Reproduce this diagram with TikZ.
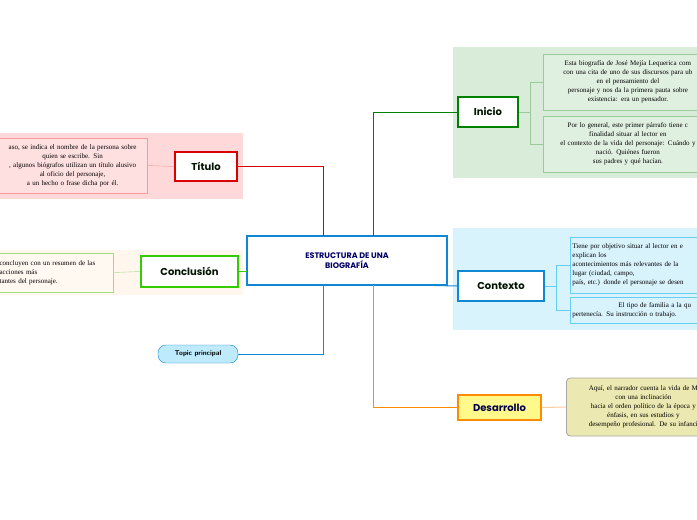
\documentclass[tikz,border=0pt]{standalone}
\usepackage{fontspec}
\setmainfont{Liberation Serif}
\newfontfamily\hd{Poppins}
\begin{document}
\begin{tikzpicture}[x=1pt,y=-1pt,
 main/.style={draw,line width=1.6pt,fill=white,font=\hd\bfseries\normalsize,text=black!80!green!40!black,inner sep=0pt},
 txt/.style={draw,line width=0.8pt,inner sep=2pt,font=\fontsize{7}{9}\selectfont,align=center},
 con/.style={line width=1pt}]
\clip (0,0) rectangle (697,520);
\fill[white] (0,0) rectangle (697,520);
\fill[red!15] (0,133) rectangle (243,199);
\fill[orange!7] (0,250) rectangle (243,295);
\fill[green!50!black!15] (453,47) rectangle (697,178);
\fill[cyan!15] (453,228) rectangle (697,330);
\coordinate (c1) at (323,236); \coordinate (c2) at (373,236);
\coordinate (c3) at (323,285); \coordinate (c4) at (373,285);
\coordinate (c5) at (412,285); \coordinate (c6) at (247,271.5);
\node[main,draw=cyan!70!blue,minimum width=200,minimum height=49,align=center,font=\hd\bfseries\footnotesize,text=blue!40!black] (ctr) at (347,260.5) {ESTRUCTURA DE UNA\\BIOGRAFÍA};
\node[main,draw=red!85!black,minimum width=62,minimum height=29] (tit) at (206,166.5) {Título};
\node[txt,draw=red!40,fill=red!12,text width=146,anchor=east,minimum height=55] (tt) at (148,165.5) {aso, se indica el nombre de la persona sobre\\ quien se escribe. Sin\\, algunos biógrafos utilizan un título alusivo\\ al oficio del personaje,\\ a un hecho o frase dicha por él.};
\draw[con,red!85!black] (c1) |- (tit.east);
\draw[red!40] (tt.east) -- (tit.west);
\node[main,draw=green!60!olive,minimum width=97,minimum height=31] (con) at (189.5,271.5) {Conclusión};
\node[txt,draw=green!50!olive!50,fill=orange!5,text width=112,anchor=east,align=left,minimum height=39] (ct) at (114,272.5) {concluyen con un resumen de las\\ acciones más\\tantes del personaje.};
\draw[con,green!60!olive] (c6) -- (con.east);
\draw[green!50!olive!50] (ct.east) -- (con.west);
\node[draw=cyan!70!blue,fill=cyan!25,rounded corners=8,minimum width=80,minimum height=18,font=\sffamily\bfseries\scriptsize] (top) at (198,354) {Topic principal};
\draw[con,cyan!70!blue] (c3) |- (top.east);
\node[main,draw=green!50!black,minimum width=60,minimum height=30] (ini) at (488,112) {Inicio};
\draw[con,green!50!black] (c2) |- (ini.west);
\node[txt,draw=green!50!black!40,fill=green!50!black!12,text width=165,anchor=west,minimum height=56] (i1) at (543,82) {Esta biografía de José Mejía Lequerica com\\con una cita de uno de sus discursos para ub\\ en el pensamiento del\\ personaje y nos da la primera pauta sobre\\ existencia: era un pensador.};
\node[txt,draw=green!50!black!40,fill=green!50!black!12,text width=165,anchor=west,minimum height=56] (i2) at (543,144) {Por lo general, este primer párrafo tiene c\\ finalidad situar al lector en\\ el contexto de la vida del personaje: Cuándo y\\ nació. Quiénes fueron\\ sus padres y qué hacían.};
\coordinate (ib) at (530,112);
\draw[green!50!black!40] (ini.east) -- (ib) (ib) |- (i1.west) (ib) |- (i2.west);
\node[main,draw=cyan!70!blue,minimum width=86,minimum height=30] (cx) at (501,286) {Contexto};
\draw[con,cyan!70!blue] (c5) -- (cx.west);
\node[txt,draw=cyan!60,fill=cyan!15,text width=150,anchor=west,align=left,minimum height=56] (x1) at (570,265) {Tiene por objetivo situar al lector en e\\explican los\\acontecimientos más relevantes de la\\lugar (ciudad, campo,\\país, etc.) donde el personaje se desen};
\node[txt,draw=cyan!60,fill=cyan!15,text width=150,anchor=west,align=left,minimum height=26] (x2) at (570,310) {\hspace*{46pt}El tipo de familia a la qu\\pertenecía. Su instrucción o trabajo.};
\coordinate (xb) at (556,286);
\draw[cyan!60] (cx.east) -- (xb) (xb) |- (x1.west) (xb) |- (x2.west);
\node[main,draw=orange!90!yellow,fill=yellow!45,minimum width=83,minimum height=25,text=blue!30!black] (des) at (499.5,407.5) {Desarrollo};
\draw[con,orange!90!yellow] (c4) |- (des.west);
\node[txt,draw=gray!70,fill=yellow!30!olive!25,rounded corners=4,text width=150,anchor=west,minimum height=58] (d1) at (566,407) {Aquí, el narrador cuenta la vida de M\\ con una inclinación\\ hacia el orden político de la época y\\ énfasis, en sus estudios y\\ desempeño profesional. De su infanci};
\draw[orange!40,line width=1pt] (des.east) -- (d1.west);
\end{tikzpicture}
\end{document}
